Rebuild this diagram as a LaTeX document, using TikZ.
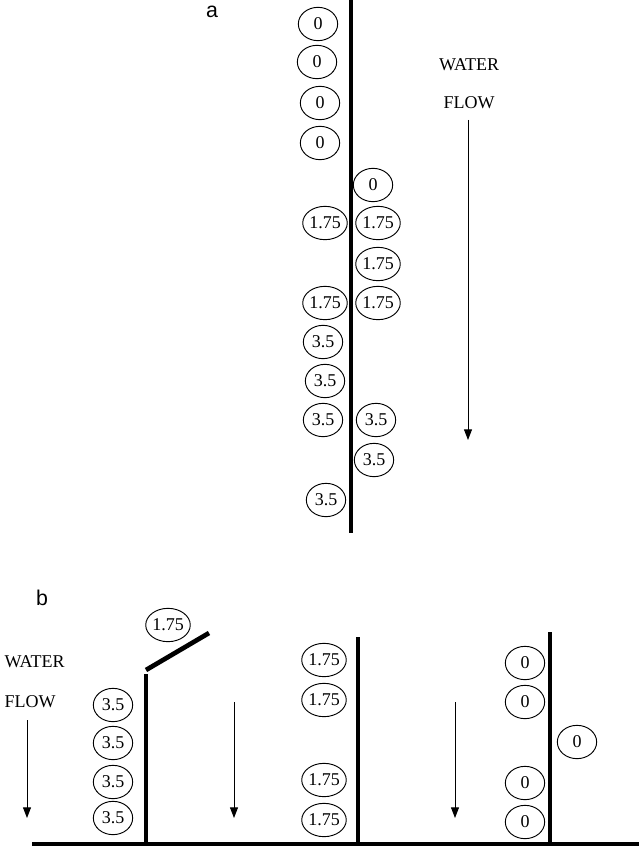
\documentclass[tikz,border=0pt]{standalone}
\usepackage{fontspec}
\setmainfont{Liberation Serif}
\newfontfamily\panelfont{Liberation Sans}
\usetikzlibrary{arrows.meta,shapes.geometric}
\begin{document}
\begin{tikzpicture}[x=0.75pt,y=-0.75pt,
  cell/.style={draw,ellipse,line width=0.7pt,minimum width=29.5pt,minimum height=25pt,inner sep=0pt,font=\fontsize{13.5}{15}\selectfont},
  wall/.style={line width=3.5pt},
  flow/.style={line width=0.7pt,-{Triangle[length=8pt,width=6pt]}},
  txt/.style={font=\fontsize{13.5}{15}\selectfont},
  panel/.style={font=\panelfont\fontsize{16}{18}\selectfont}]
  \useasboundingbox (0,0) rectangle (639,850);
  % panel a
  \node[panel] (lblA) at (212,12) {a};
  \draw[wall] (351,0)--(351,533);
  \node[cell] (aL1) at (318,24) {0};
  \node[cell] (aL2) at (317,62) {0};
  \node[cell] (aL3) at (320,103) {0};
  \node[cell] (aL4) at (320,143) {0};
  \node[cell] (aR1) at (373,185) {0};
  \node[cell] (aL5) at (325,223) {1.75};
  \node[cell] (aR2) at (378,223) {1.75};
  \node[cell] (aR3) at (378,264) {1.75};
  \node[cell] (aL6) at (325,303) {1.75};
  \node[cell] (aR4) at (378,303) {1.75};
  \node[cell] (aL7) at (323,342) {3.5};
  \node[cell] (aL8) at (325,381) {3.5};
  \node[cell] (aL9) at (323,420) {3.5};
  \node[cell] (aR5) at (376,420) {3.5};
  \node[cell] (aR6) at (374,460) {3.5};
  \node[cell] (aL10) at (326,500) {3.5};
  \node[txt] (waterA) at (469,65) {WATER};
  \node[txt] (flowA) at (469,103) {FLOW};
  \coordinate (aEnd) at (468,440);
  \draw[flow] (flowA.south -| aEnd) ++(0,6) -- (aEnd);
  % panel b
  \node[panel] (lblB) at (42,598) {b};
  \node[txt,anchor=west] (waterB) at (0,662) {WATER};
  \node[txt,anchor=west] (flowB) at (0,702) {FLOW};
  \coordinate (bTop1) at (27,720);
  \coordinate (bEnd1) at (27,818);
  \draw[flow] (bTop1) -- (bEnd1);
  \draw[wall] (32,844)--(639,844);
  % bent wall
  \draw[wall] (146,844)--(146,674);
  \draw[wall] (146,670)--(209,633);
  \node[cell] (b1T) at (168,625) {1.75};
  \node[cell] (b1a) at (113,705) {3.5};
  \node[cell] (b1b) at (113,743) {3.5};
  \node[cell] (b1c) at (113,782) {3.5};
  \node[cell] (b1d) at (113,818) {3.5};
  \coordinate (bTop2) at (234,702);
  \coordinate (bEnd2) at (234,818);
  \draw[flow] (bTop2) -- (bEnd2);
  % straight wall
  \draw[wall] (358,844)--(358,637);
  \node[cell] (b2a) at (324,660) {1.75};
  \node[cell] (b2b) at (324,700) {1.75};
  \node[cell] (b2c) at (324,780) {1.75};
  \node[cell] (b2d) at (324,820) {1.75};
  \coordinate (bTop3) at (455,702);
  \coordinate (bEnd3) at (455,818);
  \draw[flow] (bTop3) -- (bEnd3);
  % wall with far-side cell
  \draw[wall] (550,844)--(550,632);
  \node[cell] (b3a) at (525,663) {0};
  \node[cell] (b3b) at (525,702) {0};
  \node[cell] (b3R) at (577,742) {0};
  \node[cell] (b3c) at (525,783) {0};
  \node[cell] (b3d) at (525,822) {0};
\end{tikzpicture}
\end{document}
